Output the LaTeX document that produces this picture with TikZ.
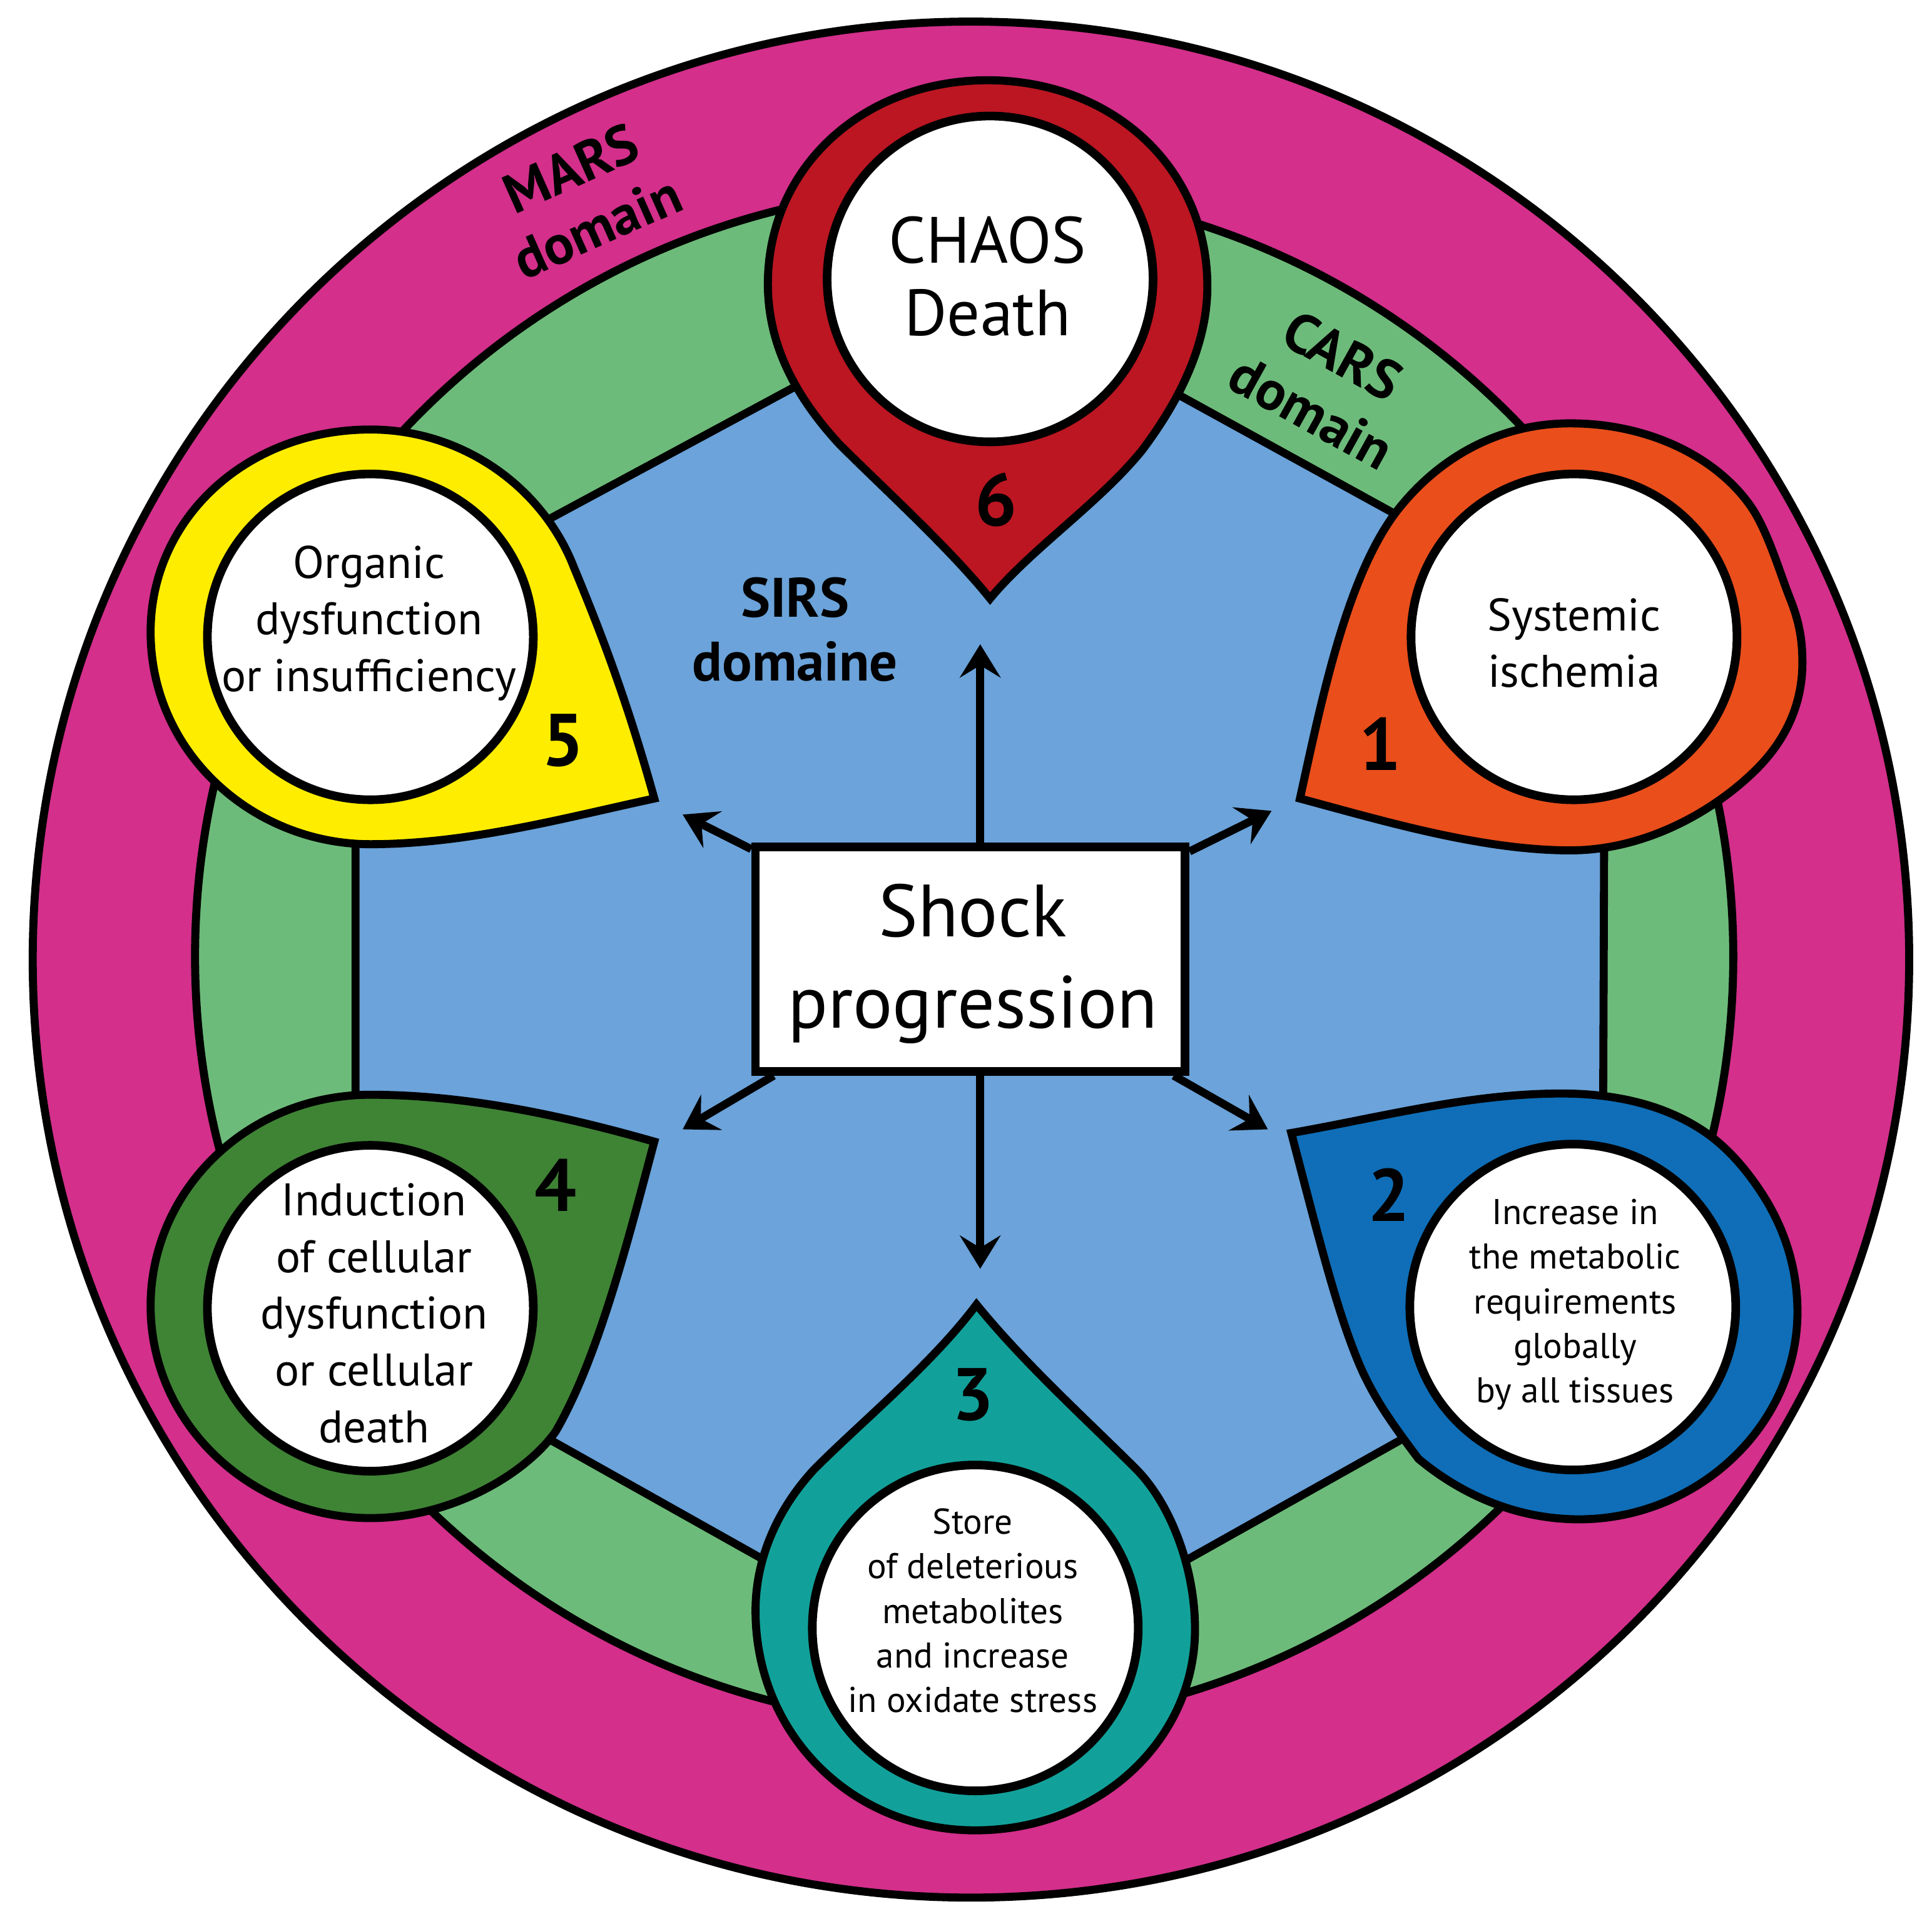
\documentclass[tikz,border=0pt]{standalone}
\usepackage{fontspec}
\setmainfont{PT Sans}
\usetikzlibrary{arrows.meta}
\definecolor{cmars}{HTML}{D32F8B}
\definecolor{ccars}{HTML}{6DBB7A}
\definecolor{csirs}{HTML}{6BA3DA}
\definecolor{cred}{HTML}{BB1622}
\definecolor{corange}{HTML}{E94E1B}
\definecolor{cyellow}{HTML}{FFED00}
\definecolor{cdgreen}{HTML}{3F8335}
\definecolor{cblue}{HTML}{0F6EB7}
\definecolor{cteal}{HTML}{12A19A}
\tikzset{
  ol/.style={draw=black,line width=6.5pt,line join=miter},
  whitecirc/.style={circle,draw=black,fill=white,line width=7pt,minimum size=264pt,inner sep=0pt},
  lbl/.style={align=center,inner sep=0pt,text=black},
  big/.style={lbl,font=\fontsize{37}{46}\selectfont},
  small/.style={lbl,font=\fontsize{29}{36.2}\selectfont},
  num/.style={lbl,font=\fontsize{60}{60}\selectfont\bfseries},
  dom/.style={lbl,font=\fontsize{45}{52}\selectfont\bfseries},
  arr/.style={line width=6.5pt,-{Stealth[length=27pt,width=33pt,inset=10pt]}},
}
\begin{document}
\begin{tikzpicture}[x=1pt,y=-1pt]
\useasboundingbox (0,0) rectangle (1565,1550.3);
% domains
\draw[ol,fill=cmars] (786.5,777.5) circle[radius=760pt];
\draw[ol,fill=ccars] (781,775) circle[radius=623pt];
\draw[ol,fill=csirs] (795,232) -- (1300,510) -- (1298,1075) -- (790,1360) -- (288,1078) -- (288,505) -- cycle;
% pins
\draw[ol,fill=cred] (802,485) .. controls (770,445) and (715,395) .. (680,360) .. controls (645,322) and (622,280) .. (622,230) .. controls (622,135) and (700,65) .. (800,65) .. controls (900,65) and (978,135) .. (978,232) .. controls (978,280) and (955,325) .. (925,365) .. controls (890,408) and (835,445) .. (802,485) -- cycle;
\draw[ol,fill=corange] (1053,647) .. controls (1070,570) and (1090,470) .. (1130,416) .. controls (1165,370) and (1215,343) .. (1272,343) .. controls (1335,343) and (1390,370) .. (1418,410) .. controls (1432,430) and (1442,465) .. (1450,485) .. controls (1458,505) and (1460,520) .. (1460,537) .. controls (1460,570) and (1447,598) .. (1425,621) .. controls (1392,655) and (1335,689) .. (1272,689) .. controls (1200,689) and (1120,665) .. (1053,647) -- cycle;
\draw[ol,fill=cyellow] (530,647) .. controls (510,575) and (490,520) .. (465,460) .. controls (440,395) and (375,348) .. (300,348) .. controls (200,348) and (122,420) .. (122,512) .. controls (122,610) and (205,684) .. (300,684) .. controls (380,684) and (460,662) .. (530,647) -- cycle;
\draw[ol,fill=cdgreen] (530,925) .. controls (460,905) and (380,887) .. (300,887) .. controls (200,887) and (122,965) .. (122,1058) .. controls (122,1155) and (205,1230) .. (300,1230) .. controls (365,1230) and (425,1195) .. (450,1160) .. controls (485,1100) and (510,1000) .. (530,925) -- cycle;
\draw[ol,fill=cblue] (1046,918) .. controls (1120,905) and (1190,886) .. (1265,886) .. controls (1315,886) and (1355,898) .. (1385,920) .. controls (1405,935) and (1420,955) .. (1431,973) .. controls (1447,1000) and (1456,1030) .. (1456,1063) .. controls (1456,1155) and (1375,1231) .. (1279,1231) .. controls (1230,1231) and (1185,1212) .. (1149,1182) .. controls (1125,1150) and (1115,1135) .. (1104,1112) .. controls (1085,1070) and (1070,1010) .. (1046,918) -- cycle;
\draw[ol,fill=cteal] (791,1057) .. controls (755,1105) and (700,1150) .. (660,1190) .. controls (632,1220) and (612,1260) .. (612,1305) .. controls (612,1405) and (690,1483) .. (790,1483) .. controls (890,1483) and (968,1410) .. (968,1320) .. controls (968,1270) and (948,1218) .. (920,1190) .. controls (880,1150) and (830,1105) .. (791,1057) -- cycle;
% white circles
\node[whitecirc] (c6) at (802,226) {};
\node[whitecirc] (c1) at (1275,516) {};
\node[whitecirc] (c5) at (300,516) {};
\node[whitecirc] (c4) at (300,1060) {};
\node[whitecirc] (c2) at (1274,1059) {};
\node[whitecirc] (c3) at (790,1319) {};
% circle texts
\node[lbl,font=\fontsize{53}{59}\selectfont] (t6) at (800,224) {CHAOS\\Death};
\node[big] (t1) at (1275,521) {Systemic\\ischemia};
\node[big] (t5) at (299,505) {Organic\\dysfunction\\or insufficiency};
\node[big] (t4) at (303,1064) {Induction\\of cellular\\dysfunction\\or cellular\\death};
\node[small] (t2) at (1276,1057) {Increase in\\the metabolic\\requirements\\globally\\by all tissues};
\node[small] (t3) at (788,1305) {Store\\of deleterious\\metabolites\\and increase\\in oxidate stress};
% numbers
\node[num] (n6) at (807,405) {6};
\node[num] (n1) at (1118,603) {1};
\node[num] (n5) at (456,600) {5};
\node[num] (n2) at (1125,968) {2};
\node[num] (n4) at (450,960) {4};
\node[num] (n3) at (788,1130) {3};
% domain labels
\node[dom] (sirs) at (644,510) {SIRS\\domaine};
\node[dom,rotate=24] (mars) at (473,160) {MARS\\domain};
\node[dom,rotate=-29] (cars) at (1075,311) {CARS\\domain};
% centre
\node[draw=black,fill=white,line width=7pt,minimum width=348pt,minimum height=182pt,inner sep=0pt] (shock) at (786,777) {};
\node[lbl,font=\fontsize{60}{74}\selectfont] (shocktext) at (788,781) {Shock\\progression};
% arrow tips
\coordinate (tu) at (794,522);
\coordinate (td) at (794,1028);
\coordinate (tul) at (553,660);
\coordinate (tur) at (1030,657);
\coordinate (tll) at (553,915);
\coordinate (tlr) at (1027,915);
\draw[arr] (tu |- shock.north) -- (tu);
\draw[arr] (td |- shock.south) -- (td);
\draw[arr] (shock) -- (tul);
\draw[arr] (shock) -- (tur);
\draw[arr] (shock) -- (tll);
\draw[arr] (shock) -- (tlr);
\end{tikzpicture}
\end{document}
